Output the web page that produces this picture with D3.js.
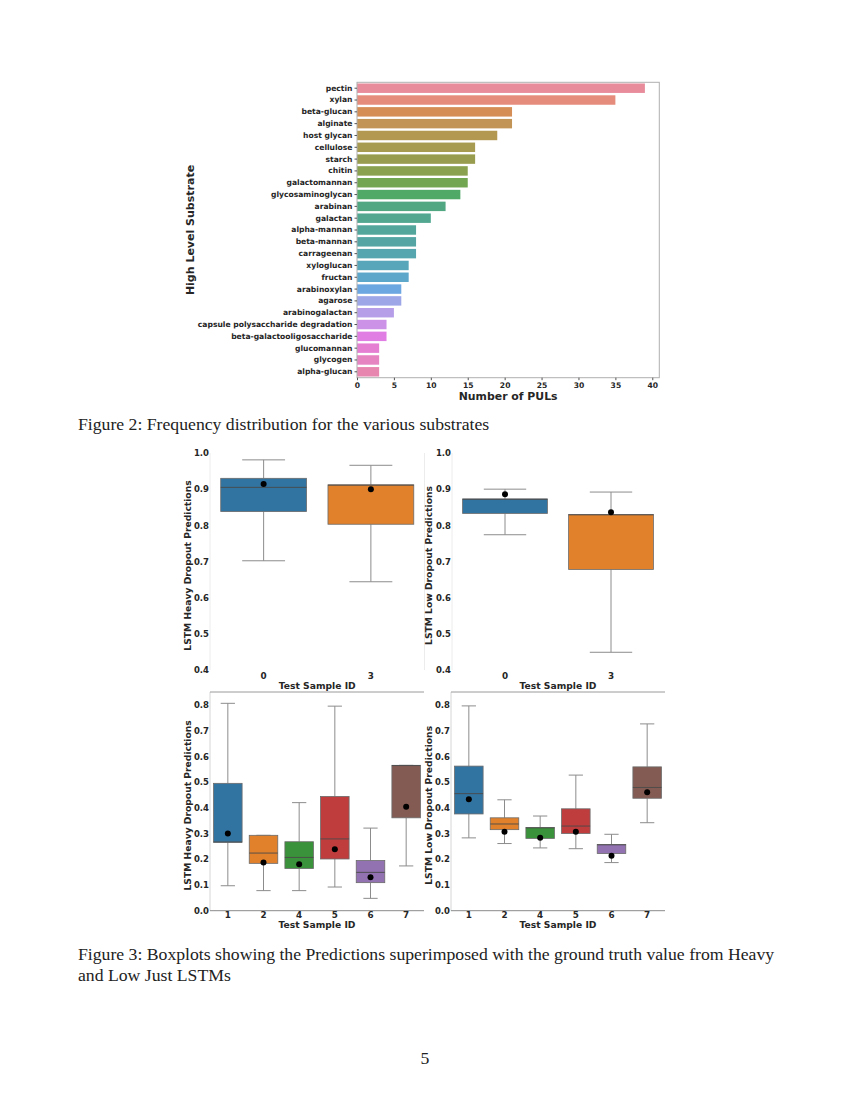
<!DOCTYPE html>
<html lang="en">
  <head>
    <meta charset="utf-8" />
    <title>PUL substrates and LSTM dropout predictions</title>
    <script src="https://cdn.jsdelivr.net/npm/d3@7/dist/d3.min.js"></script>
    <style>
      body {
        margin: 0;
        background: #fff;
      }

      svg {
        display: block;
      }

      .axis text,
      .label {
        font-family: "DejaVu Sans", sans-serif;
        font-weight: bold;
        fill: #262626;
      }

      .axis path {
        display: none;
      }

      .axis line {
        stroke: #555;
      }

      .caption {
        font-family: "Liberation Serif", serif;
        fill: #222;
      }
    </style>
  </head>

  <body>
    <svg id="page"></svg>

    <script>
      // ---- Figure 2 data ----
      const substrates = [
        "pectin", "xylan", "beta-glucan", "alginate", "host glycan", "cellulose",
        "starch", "chitin", "galactomannan", "glycosaminoglycan", "arabinan",
        "galactan", "alpha-mannan", "beta-mannan", "carrageenan", "xyloglucan",
        "fructan", "arabinoxylan", "agarose", "arabinogalactan",
        "capsule polysaccharide degradation", "beta-galactooligosaccharide",
        "glucomannan", "glycogen", "alpha-glucan"
      ];
      const pulCounts = [39, 35, 21, 21, 19, 16, 16, 15, 15, 14, 12, 10, 8, 8, 8, 7, 7, 6, 6, 5, 4, 4, 3, 3, 3];
      const pulTicks = [0, 5, 10, 15, 20, 25, 30, 35, 40];

      // ---- Figure 3 data: [lower whisker, q1, median, q3, upper whisker] ----
      const topIds = ["0", "3"];
      const heavyTopStats = [
        [0.702, 0.838, 0.905, 0.930, 0.981],
        [0.644, 0.803, 0.911, 0.912, 0.966]
      ];
      const heavyTopTruth = [0.914, 0.900];
      const lowTopStats = [
        [0.774, 0.833, 0.872, 0.873, 0.900],
        [0.449, 0.678, 0.829, 0.830, 0.892]
      ];
      const lowTopTruth = [0.886, 0.836];

      const bottomIds = ["1", "2", "4", "5", "6", "7"];
      const heavyBottomStats = [
        [0.097, 0.266, 0.267, 0.495, 0.806],
        [0.078, 0.184, 0.224, 0.293, 0.293],
        [0.078, 0.164, 0.207, 0.268, 0.420],
        [0.092, 0.201, 0.279, 0.444, 0.795],
        [0.048, 0.109, 0.149, 0.195, 0.321],
        [0.174, 0.361, 0.564, 0.565, 0.565]
      ];
      const heavyBottomTruth = [0.300, 0.187, 0.181, 0.239, 0.130, 0.404];
      const lowBottomStats = [
        [0.283, 0.376, 0.455, 0.562, 0.796],
        [0.261, 0.315, 0.337, 0.361, 0.431],
        [0.244, 0.281, 0.322, 0.323, 0.368],
        [0.241, 0.300, 0.329, 0.396, 0.527],
        [0.187, 0.222, 0.256, 0.257, 0.297],
        [0.342, 0.437, 0.479, 0.559, 0.726]
      ];
      const lowBottomTruth = [0.433, 0.307, 0.284, 0.307, 0.214, 0.460];

      const topTicks = [0.4, 0.5, 0.6, 0.7, 0.8, 0.9, 1.0];
      const bottomTicks = [0, 0.1, 0.2, 0.3, 0.4, 0.5, 0.6, 0.7, 0.8];

      // seaborn "deep"-ish colours (tab10 desaturated to 0.75)
      const boxColors = ["#3274a1", "#e1812c", "#3a923a", "#c03d3e", "#9372b2", "#845b53"];

      /////////////////////////

      // husl palette (HSLuv) like seaborn, then desaturated for barplot
      const M = [
        [3.240969941904521, -1.537383177570093, -0.498610760293],
        [-0.96924363628087, 1.87596750150772, 0.041555057407175],
        [0.055630079696993, -0.20397695888897, 1.056971514242878]
      ];
      const kappa = 903.2962962;
      const epsilon = 0.0088564516;

      function maxChroma(L, H) {
        const hrad = (H / 360) * Math.PI * 2;
        const sub1 = Math.pow(L + 16, 3) / 1560896;
        const sub2 = sub1 > epsilon ? sub1 : L / kappa;
        let min = Infinity;
        M.forEach(([m1, m2, m3]) => {
          [0, 1].forEach(t => {
            const top1 = (284517 * m1 - 94839 * m3) * sub2;
            const top2 = (838422 * m3 + 769860 * m2 + 731718 * m1) * L * sub2 - 769860 * t * L;
            const bottom = (632260 * m3 - 126452 * m2) * sub2 + 126452 * t;
            const slope = top1 / bottom;
            const intercept = top2 / bottom;
            const len = intercept / (Math.sin(hrad) - slope * Math.cos(hrad));
            if (len >= 0) min = Math.min(min, len);
          });
        });
        return min;
      }

      function hsluv(h, s, l) {
        const C = (maxChroma(l, h) / 100) * s;
        const hrad = (h / 180) * Math.PI;
        const U = Math.cos(hrad) * C;
        const V = Math.sin(hrad) * C;
        const refU = 0.19783000664283;
        const refV = 0.46831999493879;
        const Y = l <= 8 ? l / kappa : Math.pow((l + 16) / 116, 3);
        const u = U / (13 * l) + refU;
        const v = V / (13 * l) + refV;
        const X = (Y * 9 * u) / (4 * v);
        const Z = (Y * (12 - 3 * u - 20 * v)) / (4 * v);
        const rgb = M.map(r => r[0] * X + r[1] * Y + r[2] * Z).map(c => {
          const g = c <= 0.0031308 ? 12.92 * c : 1.055 * Math.pow(c, 1 / 2.4) - 0.055;
          return Math.max(0, Math.min(255, Math.round(g * 255)));
        });
        return d3.rgb(rgb[0], rgb[1], rgb[2]);
      }

      function barColor(i, n) {
        const hue = ((i / n + 0.01) % 1) * 359;
        const c = d3.hsl(hsluv(hue, 0.9 * 99, 0.65 * 99));
        c.s *= 0.75;
        return c.formatHex();
      }

      const svg = d3.select("#page").attr("width", 850).attr("height", 1100);
      svg.append("rect").attr("width", 850).attr("height", 1100).attr("fill", "#fff");

      // ---------------- Figure 2: horizontal bar chart ----------------
      function drawBars() {
        const box = { left: 357, right: 659.3, top: 82.3, bottom: 377.7 };
        const g = svg.append("g");

        const xscale = d3
          .scaleLinear()
          .domain([0, d3.max(pulCounts) * 1.05])
          .range([box.left, box.right]);
        const yscale = d3
          .scaleBand()
          .domain(substrates)
          .range([box.top, box.bottom])
          .paddingInner(0.2)
          .paddingOuter(0.1);

        g.selectAll("rect.bar")
          .data(substrates)
          .join("rect")
          .attr("class", "bar")
          .attr("x", xscale(0))
          .attr("y", d => yscale(d))
          .attr("width", (d, i) => xscale(pulCounts[i]) - xscale(0))
          .attr("height", yscale.bandwidth())
          .attr("fill", (d, i) => barColor(i, substrates.length))
          .attr("fill-opacity", 0.92);

        g.append("rect")
          .attr("x", box.left)
          .attr("y", box.top)
          .attr("width", box.right - box.left)
          .attr("height", box.bottom - box.top)
          .attr("fill", "none")
          .attr("stroke", "#b0b0b0")
          .attr("stroke-width", 1);

        const xaxis = d3.axisBottom(xscale).tickValues(pulTicks).tickSize(2.5).tickPadding(2);
        g.append("g")
          .attr("class", "axis")
          .attr("transform", `translate(0,${box.bottom})`)
          .call(xaxis)
          .selectAll("text")
          .style("font-size", "7.6px");

        const yaxis = d3.axisLeft(yscale).tickSize(2.5).tickPadding(2);
        g.append("g")
          .attr("class", "axis")
          .attr("transform", `translate(${box.left},0)`)
          .call(yaxis)
          .selectAll("text")
          .style("font-size", "7.6px");

        g.append("text")
          .attr("class", "label")
          .attr("x", (box.left + box.right) / 2)
          .attr("y", 399.5)
          .attr("text-anchor", "middle")
          .style("font-size", "10.9px")
          .text("Number of PULs");

        g.append("text")
          .attr("class", "label")
          .attr("transform", `translate(194,${(box.top + box.bottom) / 2}) rotate(-90)`)
          .attr("text-anchor", "middle")
          .style("font-size", "11px")
          .text("High Level Substrate");
      }

      // ---------------- Figure 3: box plots ----------------
      function drawBoxPanel(p) {
        const g = svg.append("g");

        const xscale = d3
          .scaleBand()
          .domain(p.ids)
          .range(p.xRange)
          .paddingInner(0.2)
          .paddingOuter(0.1);
        const yscale = d3.scaleLinear().domain(p.yDomain).range(p.yRange);

        const [x0, x1] = p.xRange;
        const [yb, yt] = p.yRange;

        // spines
        p.spines.forEach(s => {
          const pos = {
            left: [x0, yb, x0, yt],
            right: [x1, yb, x1, yt],
            top: [x0, yt, x1, yt],
            bottom: [x0, yb, x1, yb]
          }[s.side];
          g.append("line")
            .attr("x1", pos[0])
            .attr("y1", pos[1])
            .attr("x2", pos[2])
            .attr("y2", pos[3])
            .attr("stroke", s.color)
            .attr("stroke-width", 1);
        });

        const bw = xscale.bandwidth();
        const item = g
          .selectAll("g.box")
          .data(p.ids)
          .join("g")
          .attr("class", "box")
          .attr("transform", d => `translate(${xscale(d) + bw / 2},0)`);

        // whiskers
        item.append("line")
          .attr("y1", (d, i) => yscale(p.stats[i][0]))
          .attr("y2", (d, i) => yscale(p.stats[i][1]))
          .attr("stroke", "#8c8c8c");
        item.append("line")
          .attr("y1", (d, i) => yscale(p.stats[i][3]))
          .attr("y2", (d, i) => yscale(p.stats[i][4]))
          .attr("stroke", "#8c8c8c");
        [0, 4].forEach(k => {
          item.append("line")
            .attr("x1", -bw / 4)
            .attr("x2", bw / 4)
            .attr("y1", (d, i) => yscale(p.stats[i][k]))
            .attr("y2", (d, i) => yscale(p.stats[i][k]))
            .attr("stroke", "#8c8c8c");
        });

        // box
        item.append("rect")
          .attr("x", -bw / 2)
          .attr("width", bw)
          .attr("y", (d, i) => yscale(p.stats[i][3]))
          .attr("height", (d, i) => yscale(p.stats[i][1]) - yscale(p.stats[i][3]))
          .attr("fill", (d, i) => boxColors[i])
          .attr("stroke", "#6b6b6b")
          .attr("stroke-width", 0.8);

        // median
        item.append("line")
          .attr("x1", -bw / 2)
          .attr("x2", bw / 2)
          .attr("y1", (d, i) => yscale(p.stats[i][2]))
          .attr("y2", (d, i) => yscale(p.stats[i][2]))
          .attr("stroke", "#4a4a4a")
          .attr("stroke-width", 0.9);

        // ground truth
        item.append("circle")
          .attr("cy", (d, i) => yscale(p.truth[i]))
          .attr("r", 3)
          .attr("fill", "#000");

        const yaxis = d3
          .axisLeft(yscale)
          .tickValues(p.ticks)
          .tickFormat(d3.format(".1f"))
          .tickSize(0)
          .tickPadding(1);
        g.append("g")
          .attr("class", "axis")
          .attr("transform", `translate(${x0},0)`)
          .call(yaxis)
          .selectAll("text")
          .style("font-size", "8.5px");

        const xaxis = d3.axisBottom(xscale).tickSize(0).tickPadding(p.tickPad);
        g.append("g")
          .attr("class", "axis")
          .attr("transform", `translate(0,${yb})`)
          .call(xaxis)
          .selectAll("text")
          .style("font-size", "8.8px");

        g.append("text")
          .attr("class", "label")
          .attr("x", (x0 + x1) / 2)
          .attr("y", p.xLabelY)
          .attr("text-anchor", "middle")
          .style("font-size", "9.2px")
          .text("Test Sample ID");

        g.append("text")
          .attr("class", "label")
          .attr("transform", `translate(${p.yLabelX},${(yb + yt) / 2 + 4}) rotate(-90)`)
          .attr("text-anchor", "middle")
          .style("font-size", "9.2px")
          .text(p.yLabel);
      }

      function captions() {
        const lines = [
          { x: 78, y: 430, text: "Figure 2: Frequency distribution for the various substrates" },
          { x: 78, y: 960, text: "Figure 3: Boxplots showing the Predictions superimposed with the ground truth value from Heavy" },
          { x: 78, y: 981, text: "and Low Just LSTMs" }
        ];
        svg.selectAll("text.caption")
          .data(lines)
          .join("text")
          .attr("class", "caption")
          .attr("x", d => d.x)
          .attr("y", d => d.y)
          .style("font-size", "17.7px")
          .text(d => d.text);

        svg.append("text")
          .attr("class", "caption")
          .attr("x", 425)
          .attr("y", 1064)
          .attr("text-anchor", "middle")
          .style("font-size", "17.7px")
          .text("5");
      }

      drawBars();

      const faint = "#ececec";
      drawBoxPanel({
        ids: topIds, stats: heavyTopStats, truth: heavyTopTruth, ticks: topTicks,
        xRange: [210, 424.5], yDomain: [0.4, 1.0], yRange: [670, 453],
        spines: [{ side: "left", color: faint }, { side: "right", color: faint }],
        tickPad: 3, xLabelY: 688.5, yLabelX: 190.5,
        yLabel: "LSTM Heavy Dropout Predictions"
      });
      drawBoxPanel({
        ids: topIds, stats: lowTopStats, truth: lowTopTruth, ticks: topTicks,
        xRange: [452, 664], yDomain: [0.4, 1.0], yRange: [670, 453],
        spines: [{ side: "left", color: faint }],
        tickPad: 3, xLabelY: 688.5, yLabelX: 432,
        yLabel: "LSTM Low Dropout Predictions"
      });
      drawBoxPanel({
        ids: bottomIds, stats: heavyBottomStats, truth: heavyBottomTruth, ticks: bottomTicks,
        xRange: [210, 424], yDomain: [0, 0.85], yRange: [910.7, 692],
        spines: [
          { side: "left", color: "#d6d6d6" },
          { side: "top", color: "#9a9a9a" },
          { side: "bottom", color: "#8a8a8a" }
        ],
        tickPad: 1, xLabelY: 927.5, yLabelX: 190.5,
        yLabel: "LSTM Heavy Dropout Predictions"
      });
      drawBoxPanel({
        ids: bottomIds, stats: lowBottomStats, truth: lowBottomTruth, ticks: bottomTicks,
        xRange: [451, 665], yDomain: [0, 0.85], yRange: [910.7, 692],
        spines: [
          { side: "left", color: "#d6d6d6" },
          { side: "top", color: "#9a9a9a" },
          { side: "bottom", color: "#8a8a8a" }
        ],
        tickPad: 1, xLabelY: 927.5, yLabelX: 432,
        yLabel: "LSTM Low Dropout Predictions"
      });

      captions();
    </script>
  </body>
</html>
